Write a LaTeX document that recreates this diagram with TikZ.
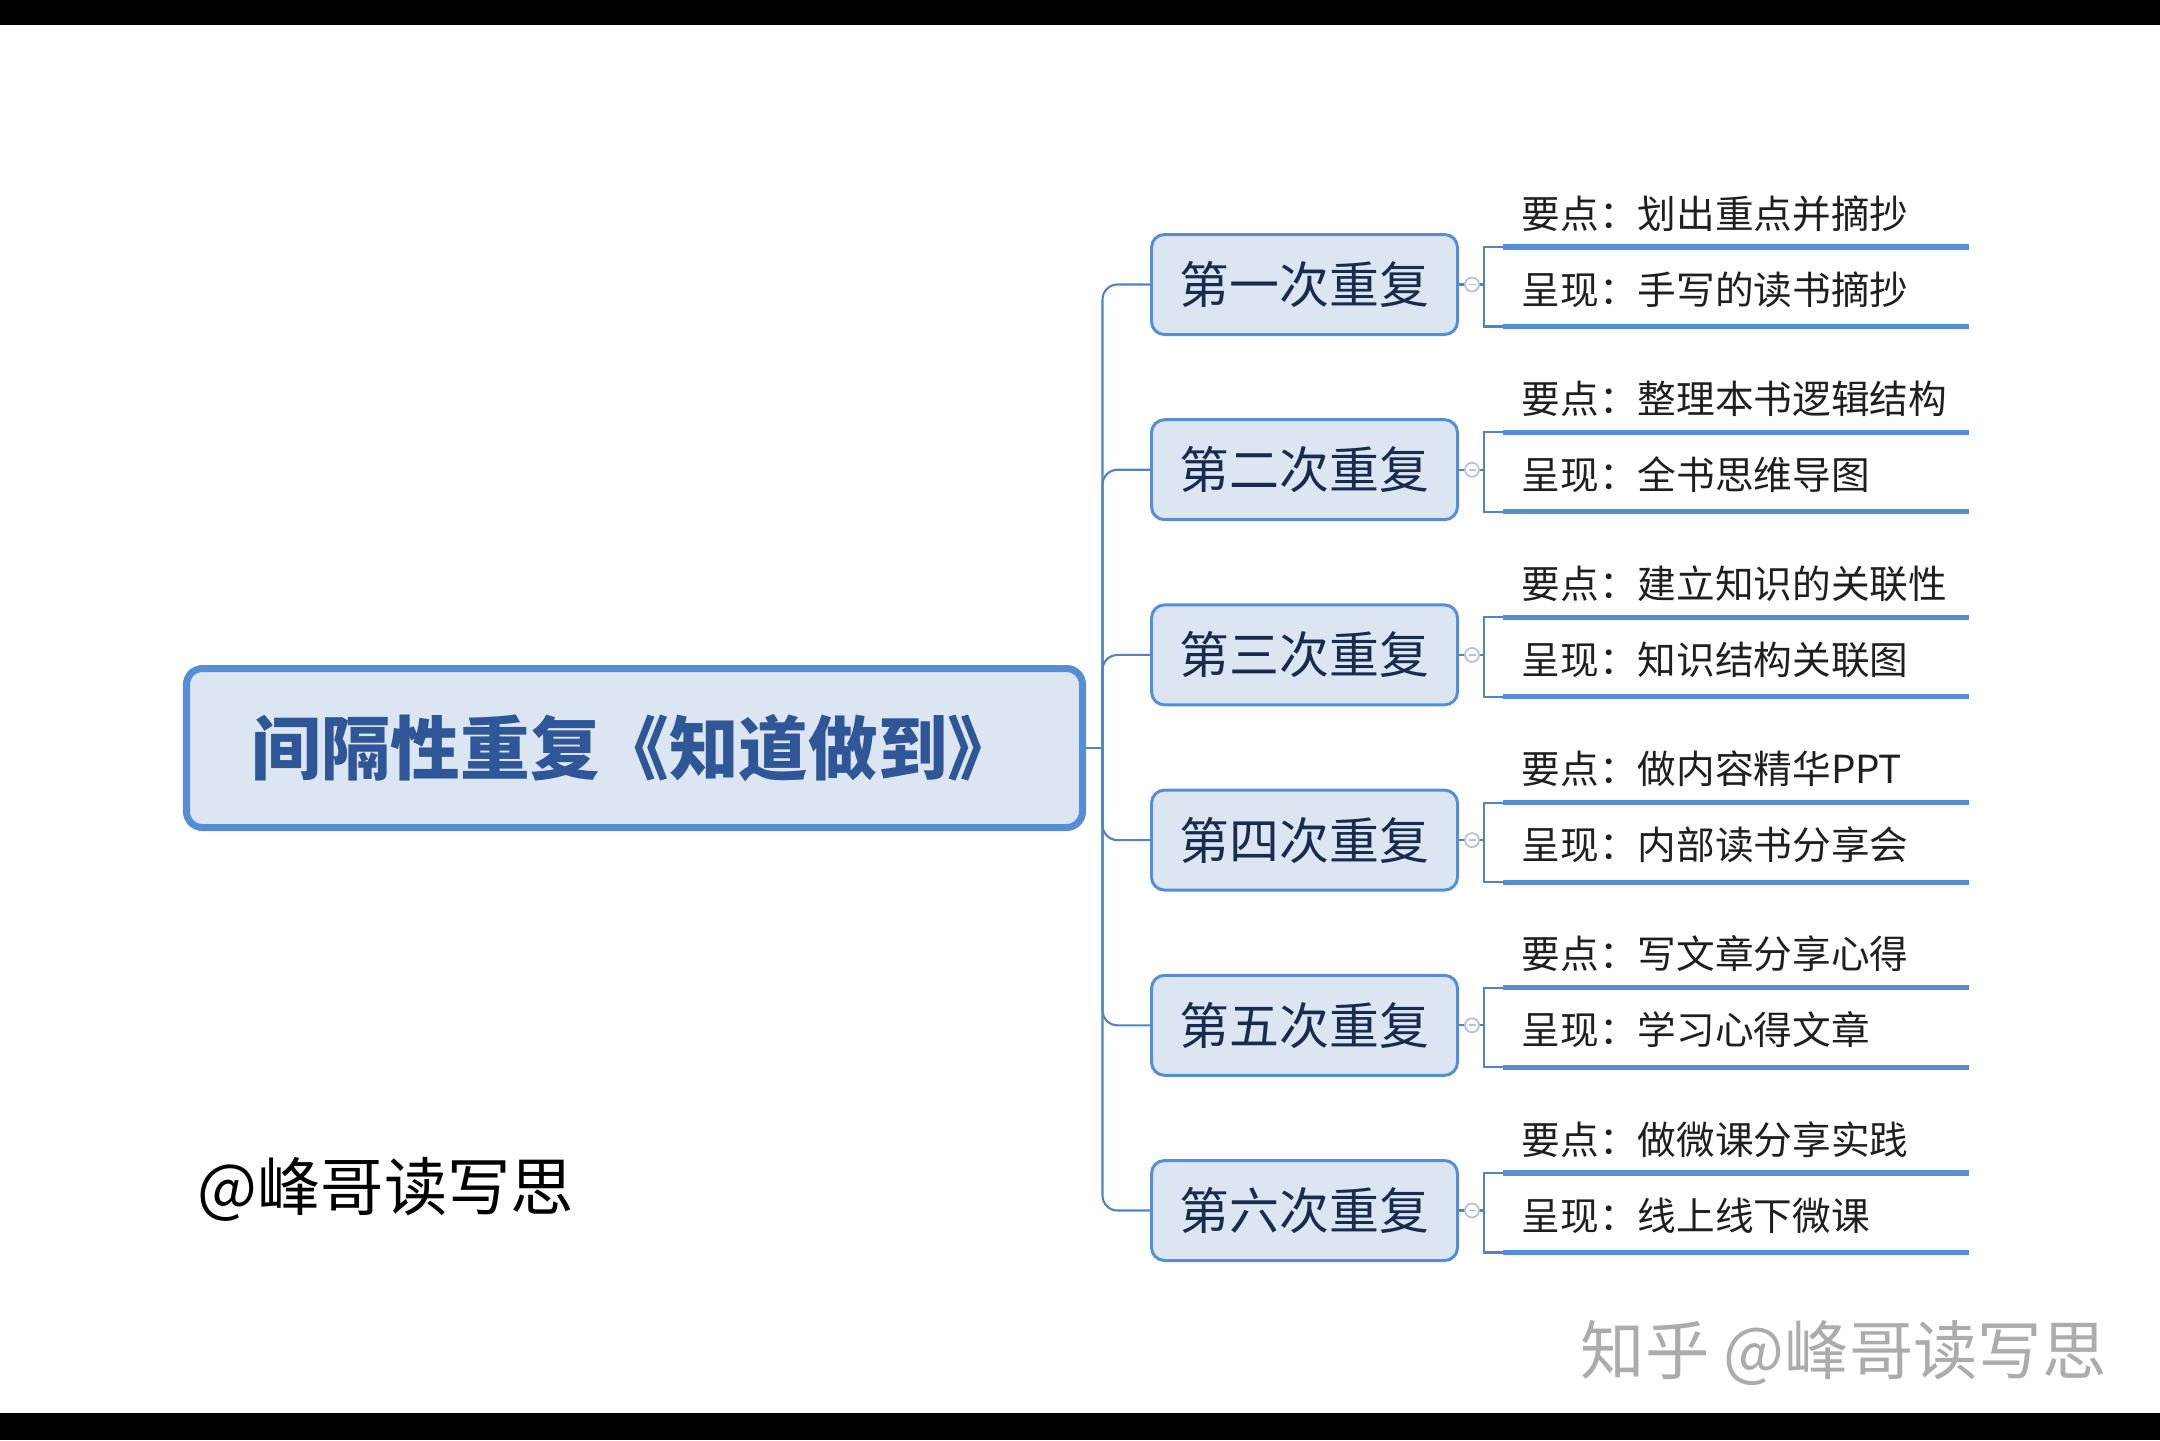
\documentclass[tikz,border=0pt]{standalone}
\usepackage{fontspec}
\setmainfont{Noto Sans CJK SC}
\usetikzlibrary{positioning}

\definecolor{boxfill}{RGB}{220,230,242}
\definecolor{boxline}{RGB}{85,142,213}
\definecolor{linkline}{RGB}{84,130,195}
\definecolor{titletext}{RGB}{47,86,150}
\definecolor{reptext}{RGB}{26,44,78}
\definecolor{foldgray}{RGB}{185,192,210}
\definecolor{markgray}{RGB}{172,172,172}

\begin{document}
\begin{tikzpicture}[
    titlebox/.style={draw=boxline, fill=boxfill, line width=2pt, rounded corners=0.16cm,
      minimum width=8.96cm, minimum height=1.59cm, inner sep=0pt,
      font=\fontsize{19.8}{22}\selectfont\bfseries, text=titletext},
    topicbox/.style={draw=boxline, fill=boxfill, line width=0.85pt, rounded corners=0.13cm,
      minimum width=3.06cm, minimum height=1.0cm, inner sep=0pt,
      font=\fontsize{14.2}{16}\selectfont, text=reptext},
    subtext/.style={anchor=base west, inner sep=0pt, font=\fontsize{11}{13}\selectfont, text=black!88},
    link/.style={draw=linkline, line width=0.6pt},
    underline/.style={draw=boxline, line width=1.45pt},
    foldmark/.style={circle, draw=foldgray, fill=white, line width=0.5pt, minimum size=0.14cm, inner sep=0pt}
  ]

  \useasboundingbox (0,0) rectangle (21.6,-14.4);

  % -- Black frame bars --
  \fill[black] (0,0) rectangle (21.6,-0.25);
  \fill[black] (0,-14.13) rectangle (21.6,-14.4);

  % -- Central topic --
  \node[titlebox] (title) at (6.345,-7.48) {间隔性重复《知道做到》};
  \coordinate (hub) at (11.025,-7.48);
  \draw[link] (title.east) -- (hub);

  % -- Six repetitions with key point and result --
  \foreach \i/\ord/\key/\show in {
      1/一/划出重点并摘抄/手写的读书摘抄,
      2/二/整理本书逻辑结构/全书思维导图,
      3/三/建立知识的关联性/知识结构关联图,
      4/四/做内容精华PPT/内部读书分享会,
      5/五/写文章分享心得/学习心得文章,
      6/六/做微课分享实践/线上线下微课}{
    \pgfmathsetmacro{\cy}{-2.845-(\i-1)*1.852}
    \node[topicbox] (rep\i) at (13.045,\cy) {第\ord 次重复};
    \draw[link, rounded corners=0.15cm] (hub) |- (rep\i.west);

    \node[subtext] (key\i) at (15.21,\cy+0.564) {要点：\key};
    \node[subtext] (show\i) at (15.21,\cy-0.196) {呈现：\show};
    \coordinate (kline\i) at (15.03,\cy+0.375);
    \coordinate (sline\i) at (15.03,\cy-0.42);
    \coordinate (bk\i) at (14.84,\cy);

    \draw[link] (rep\i.east) -- (bk\i);
    \draw[link] (kline\i) -- ++(-0.19,0) |- (sline\i);
    \draw[underline] (kline\i) -- ++(4.66,0);
    \draw[underline] (sline\i) -- ++(4.66,0);

    \node[foldmark] (fold\i) at (14.72,\cy) {};
    \draw[foldgray, line width=0.5pt] ([xshift=-0.035cm]fold\i.center) -- ([xshift=0.035cm]fold\i.center);
  }

  % -- Author marks --
  \node[anchor=west, inner sep=0pt, font=\fontsize{18}{20}\selectfont] (author) at (1.97,-11.89) {@峰哥读写思};
  \node[anchor=east, inner sep=0pt, font=\fontsize{18.3}{20}\selectfont, text=markgray] (zhihu) at (21.07,-13.53) {知乎 @峰哥读写思};

\end{tikzpicture}
\end{document}
